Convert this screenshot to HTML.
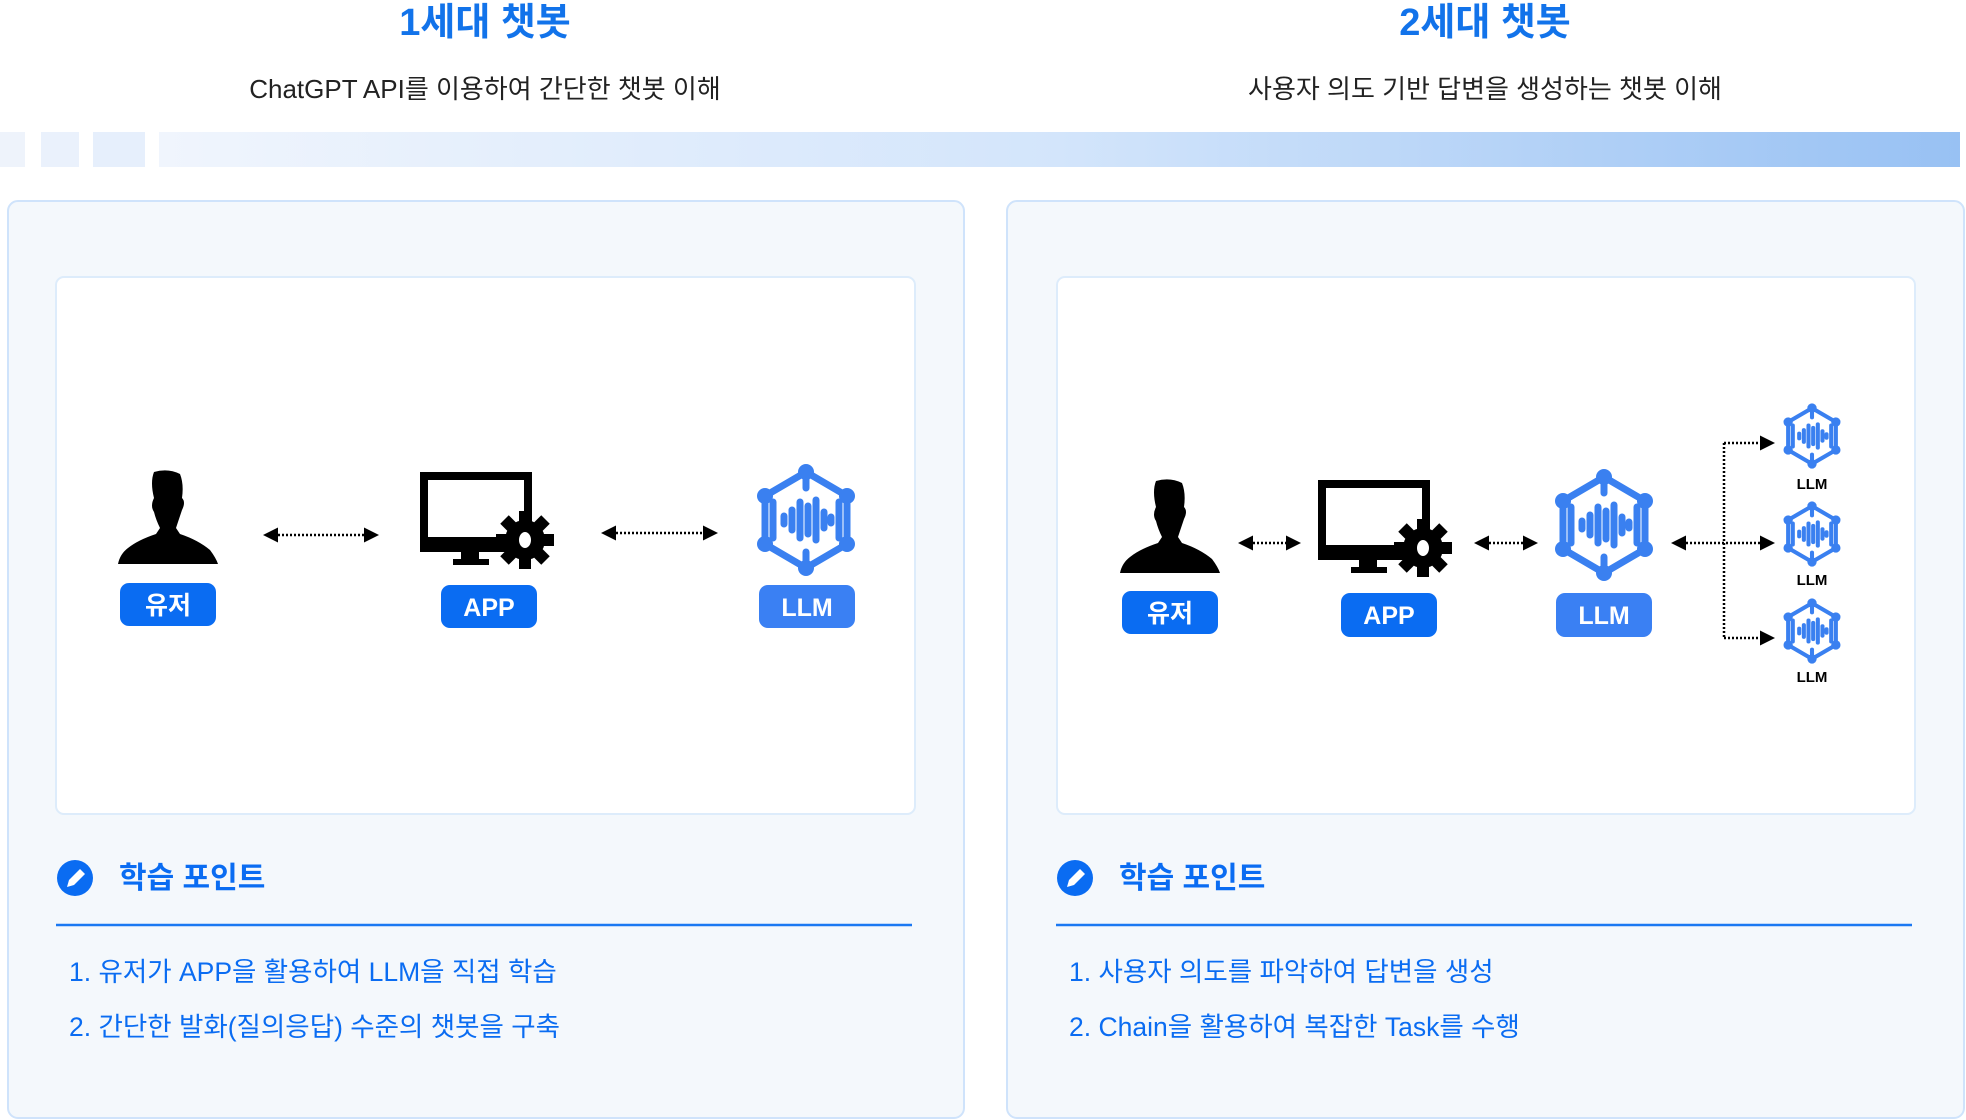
<!DOCTYPE html>
<html><head><meta charset="utf-8"><style>
html,body{margin:0;padding:0;background:#fff;}
svg{display:block;}
text{font-family:"Liberation Sans","Noto Sans CJK KR",sans-serif;}
</style></head><body>
<svg width="1966" height="1120" viewBox="0 0 1966 1120" xmlns="http://www.w3.org/2000/svg">
<defs>
<linearGradient id="bn" x1="0" x2="1" y1="0" y2="0">
<stop offset="0" stop-color="#f0f5fd"/><stop offset="0.5" stop-color="#d3e5fb"/><stop offset="1" stop-color="#98c1f3"/>
</linearGradient>
<symbol id="llm" viewBox="-55 -60 110 120" overflow="visible">
<g fill="none" stroke="#3a80f0" stroke-width="7" stroke-linecap="round" stroke-linejoin="round">
<polygon points="0,-48 41,-24 41,24 0,48 -41,24 -41,-24"/>
<line x1="0" y1="-48" x2="0" y2="-32"/><line x1="0" y1="48" x2="0" y2="32"/>
<line x1="-33" y1="-18" x2="-33" y2="18"/><line x1="33" y1="-18" x2="33" y2="18"/>
<line x1="-22" y1="-4" x2="-22" y2="4"/><line x1="-14" y1="-10" x2="-14" y2="10"/>
<line x1="-6" y1="-18" x2="-6" y2="18"/><line x1="2" y1="-14" x2="2" y2="14"/>
<line x1="10" y1="-20" x2="10" y2="20"/><line x1="18" y1="-8" x2="18" y2="8"/>
<line x1="25" y1="-3" x2="25" y2="3"/>
</g>
<g fill="#3a80f0">
<circle cx="0" cy="-48" r="8"/><circle cx="41" cy="-24" r="8"/><circle cx="41" cy="24" r="8"/>
<circle cx="0" cy="48" r="8"/><circle cx="-41" cy="24" r="8"/><circle cx="-41" cy="-24" r="8"/>
</g>
</symbol>
<symbol id="person" viewBox="0 0 100 94" overflow="visible">
<path d="M36 2 Q50 -2 62 4 Q66 14 64 28 Q68 32 64 40 Q60 52 58 58 L62 64 Q80 70 92 80 Q98 88 100 94 L0 94 Q2 84 10 78 Q20 70 38 64 L42 58 Q38 50 36 42 Q32 36 36 28 Q32 12 36 2Z" fill="#000"/>
</symbol>
<symbol id="monitor" viewBox="0 0 136 94" overflow="visible">
<rect x="3" y="3" width="104" height="72" fill="none" stroke="#000" stroke-width="8"/>
<rect x="3" y="64" width="104" height="14" fill="#000"/>
<rect x="40" y="74" width="18" height="14"/><rect x="32" y="86" width="36" height="6"/>
<g transform="translate(104,67)">
<circle r="20" fill="#000"/>
<g fill="#000"><rect x="-6" y="-29" width="12" height="58"/><rect x="-29" y="-6" width="58" height="12"/>
<rect x="-6" y="-29" width="12" height="58" transform="rotate(45)"/><rect x="-6" y="-29" width="12" height="58" transform="rotate(-45)"/></g>
<ellipse rx="6" ry="8" fill="#fff"/>
</g>
</symbol>
<marker id="ah" viewBox="0 0 10 10" refX="8" refY="5" markerWidth="6" markerHeight="6" orient="auto-start-reverse"><path d="M0 0L10 5L0 10Z" fill="#000"/></marker>
</defs>

<text x="485" y="35" font-size="38" font-weight="bold" fill="#1273ea" text-anchor="middle">1세대 챗봇</text>
<text x="485" y="98" font-size="26" fill="#222" text-anchor="middle">ChatGPT API를 이용하여 간단한 챗봇 이해</text>
<text x="1485" y="35" font-size="38" font-weight="bold" fill="#1273ea" text-anchor="middle">2세대 챗봇</text>
<text x="1485" y="98" font-size="26" fill="#222" text-anchor="middle">사용자 의도 기반 답변을 생성하는 챗봇 이해</text>

<rect x="0" y="132" width="25" height="35" fill="#eef3fb"/>
<rect x="41" y="132" width="38" height="35" fill="#eaf1fc"/>
<rect x="93" y="132" width="52" height="35" fill="#e6effc"/>
<rect x="159" y="132" width="1801" height="35" fill="url(#bn)"/>

<rect x="8" y="201" width="956" height="917" rx="10" fill="#f4f8fc" stroke="#cfe3fb" stroke-width="2"/>
<rect x="1007" y="201" width="957" height="917" rx="10" fill="#f4f8fc" stroke="#cfe3fb" stroke-width="2"/>
<rect x="56" y="277" width="859" height="537" rx="8" fill="#fff" stroke="#ddecfb" stroke-width="2"/>
<rect x="1057" y="277" width="858" height="537" rx="8" fill="#fff" stroke="#ddecfb" stroke-width="2"/>

<use href="#person" x="118" y="470" width="100" height="94"/>
<use href="#monitor" x="421" y="473" width="136" height="94"/>
<use href="#llm" x="751" y="460" width="110" height="120"/>
<g stroke="#000" stroke-width="2.5" stroke-dasharray="2 2" marker-start="url(#ah)" marker-end="url(#ah)">
<line x1="266" y1="535" x2="376" y2="535"/>
<line x1="604" y1="533" x2="715" y2="533"/>
</g>
<g font-size="25" font-weight="bold" fill="#fff" text-anchor="middle">
<rect x="120" y="583" width="96" height="43" rx="9" fill="#0a6cf2"/><text x="168" y="614">유저</text>
<rect x="441" y="585" width="96" height="43" rx="9" fill="#0a6cf2"/><text x="489" y="616">APP</text>
<rect x="759" y="585" width="96" height="43" rx="9" fill="#3a80f3"/><text x="807" y="616">LLM</text>
</g>

<use href="#person" x="1120" y="479" width="100" height="94"/>
<use href="#monitor" x="1319" y="481" width="136" height="94"/>
<use href="#llm" x="1549" y="465" width="110" height="120"/>
<g stroke="#000" stroke-width="2.5" stroke-dasharray="2 2" marker-start="url(#ah)" marker-end="url(#ah)">
<line x1="1241" y1="543" x2="1298" y2="543"/>
<line x1="1477" y1="543" x2="1535" y2="543"/>
<line x1="1674" y1="543" x2="1772" y2="543"/>
</g>
<g stroke="#000" stroke-width="2.5" stroke-dasharray="2 2" fill="none">
<polyline points="1724,443 1724,638"/>
<line x1="1724" y1="443" x2="1772" y2="443" marker-end="url(#ah)"/>
<line x1="1724" y1="638" x2="1772" y2="638" marker-end="url(#ah)"/>
</g>
<use href="#llm" x="1780" y="400" width="64" height="72"/>
<use href="#llm" x="1780" y="498" width="64" height="72"/>
<use href="#llm" x="1780" y="595" width="64" height="72"/>
<g font-size="15" font-weight="bold" fill="#000" text-anchor="middle">
<text x="1812" y="489">LLM</text><text x="1812" y="585">LLM</text><text x="1812" y="682">LLM</text>
</g>
<g font-size="25" font-weight="bold" fill="#fff" text-anchor="middle">
<rect x="1122" y="591" width="96" height="43" rx="9" fill="#0a6cf2"/><text x="1170" y="622">유저</text>
<rect x="1341" y="593" width="96" height="44" rx="9" fill="#0a6cf2"/><text x="1389" y="624">APP</text>
<rect x="1556" y="593" width="96" height="44" rx="9" fill="#3a80f3"/><text x="1604" y="624">LLM</text>
</g>

<g>
<circle cx="75" cy="878" r="18" fill="#0a6cf2"/>
<path d="M67 887 L69 880 L80 869 L85 874 L74 885Z" fill="#fff"/>
<text x="119" y="888" font-size="30" font-weight="bold" fill="#0a6cf2">학습 포인트</text>
<line x1="56" y1="925" x2="912" y2="925" stroke="#1a78f2" stroke-width="2.5"/>
<text x="69" y="981" font-size="26.5" fill="#0a6cf2">1. 유저가 APP을 활용하여 LLM을 직접 학습</text>
<text x="69" y="1036" font-size="26.5" fill="#0a6cf2">2. 간단한 발화(질의응답) 수준의 챗봇을 구축</text>
</g>
<g>
<circle cx="1075" cy="878" r="18" fill="#0a6cf2"/>
<path d="M1067 887 L1069 880 L1080 869 L1085 874 L1074 885Z" fill="#fff"/>
<text x="1119" y="888" font-size="30" font-weight="bold" fill="#0a6cf2">학습 포인트</text>
<line x1="1056" y1="925" x2="1912" y2="925" stroke="#1a78f2" stroke-width="2.5"/>
<text x="1069" y="981" font-size="26.5" fill="#0a6cf2">1. 사용자 의도를 파악하여 답변을 생성</text>
<text x="1069" y="1036" font-size="26.5" fill="#0a6cf2">2. Chain을 활용하여 복잡한 Task를 수행</text>
</g>
</svg>
</body></html>
